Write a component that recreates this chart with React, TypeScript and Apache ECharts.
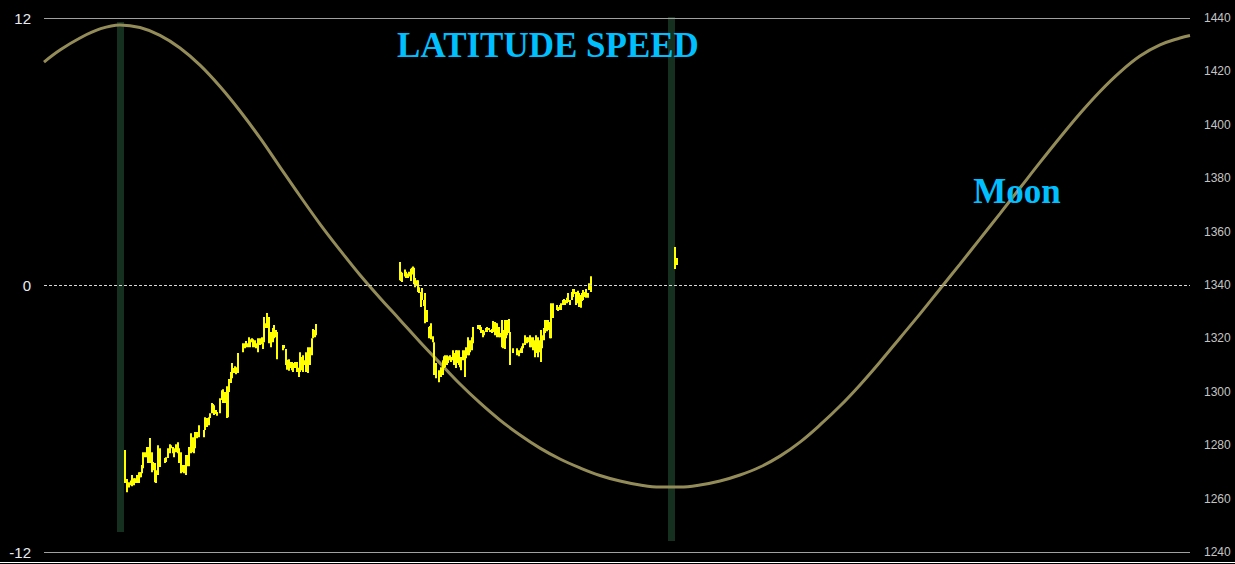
import React, { useEffect, useRef } from "react";
import * as echarts from "echarts";

// Day positions run along the hidden x axis (44 .. 1190)
const X_MIN = 44;
const X_MAX = 1190;

// Left axis (latitude speed) and right axis (price) ticks
const LEFT_TICKS = [-12, 0, 12];
const RIGHT_MIN = 1240;
const RIGHT_MAX = 1440;
const RIGHT_STEP = 20;

// Moon latitude-speed curve: [day, value on left axis]
const moonCurve: [number, number][] = [
  [44, 10.02], [60, 10.56], [80, 11.1], [100, 11.51], [120, 11.69], [140, 11.57],
  [160, 11.22], [180, 10.65], [200, 9.88], [220, 8.92], [240, 7.82], [260, 6.61],
  [280, 5.3], [300, 4.0], [320, 2.74], [340, 1.57], [360, 0.45], [380, -0.58],
  [400, -1.57], [420, -2.56], [440, -3.51], [460, -4.45], [480, -5.3], [500, -6.07],
  [520, -6.74], [540, -7.33], [560, -7.82], [580, -8.22], [600, -8.56], [620, -8.81],
  [640, -8.99], [660, -9.08], [680, -9.08], [700, -8.99], [720, -8.81], [740, -8.54],
  [760, -8.18], [780, -7.69], [800, -7.06], [820, -6.29], [840, -5.44], [860, -4.49],
  [880, -3.46], [900, -2.38], [920, -1.3], [940, -0.18], [960, 0.94], [980, 2.07],
  [1000, 3.21], [1020, 4.36], [1040, 5.51], [1060, 6.63], [1080, 7.71], [1100, 8.7],
  [1120, 9.57], [1140, 10.29], [1160, 10.79], [1180, 11.1], [1190, 11.21],
];

// Extreme markers (green verticals): [day, bottom, top] on left axis
const extremes: [number, number, number][] = [
  [120.5, -11.1, 11.82],
  [671.5, -11.51, 12.04],
];

// Price bars: [day, low, high] on right axis
const barsA: [number, number, number][] = [
  [125, 1265.8, 1278.2], [127, 1262.4, 1267.3], [129, 1264.2, 1266.1], [131, 1265.0, 1266.8],
  [132, 1264.6, 1268.8], [134, 1265.0, 1267.6], [135, 1265.8, 1267.6], [137, 1265.8, 1268.8],
  [139, 1265.8, 1269.9], [140, 1268.0, 1269.9], [141, 1268.0, 1269.9], [142, 1269.5, 1272.6],
  [143, 1271.4, 1277.4], [145, 1275.5, 1277.4], [147, 1275.5, 1279.3], [148, 1273.3, 1279.3],
  [150, 1273.3, 1282.7], [152, 1269.9, 1277.4], [153, 1270.6, 1273.7], [155, 1266.1, 1273.3],
  [156, 1265.8, 1270.6], [158, 1268.8, 1280.0], [160, 1271.8, 1278.9], [165, 1273.3, 1275.2],
  [166, 1273.7, 1275.5], [168, 1275.2, 1278.9], [170, 1277.0, 1280.4], [171, 1278.9, 1280.0],
  [173, 1277.0, 1279.3], [174, 1275.5, 1278.9], [176, 1277.4, 1280.4], [178, 1277.0, 1281.1],
  [179, 1273.3, 1278.9], [181, 1269.5, 1277.4], [182, 1269.9, 1272.6], [184, 1269.5, 1272.6],
  [186, 1268.8, 1276.3], [187, 1272.1, 1276.3], [189, 1272.1, 1279.3], [191, 1277.0, 1284.5],
  [192, 1277.4, 1283.0], [194, 1277.0, 1283.0], [195, 1278.9, 1284.9], [197, 1282.6, 1284.9],
  [199, 1283.0, 1287.5], [204, 1283.0, 1285.7], [205, 1285.7, 1290.5], [207, 1286.8, 1290.2],
  [209, 1287.5, 1290.5], [210, 1290.2, 1292.0], [212, 1292.0, 1295.8], [213, 1293.2, 1295.4],
  [214, 1291.3, 1295.0], [216, 1291.7, 1293.2], [217, 1291.0, 1292.4], [220, 1292.0, 1297.6],
  [222, 1296.9, 1300.6], [223, 1295.8, 1301.0], [225, 1295.8, 1299.9], [227, 1290.2, 1302.1],
  [228, 1290.5, 1301.8], [229, 1299.9, 1304.8], [231, 1303.3, 1307.4], [232, 1305.1, 1310.8],
  [233, 1307.0, 1308.9], [235, 1307.0, 1309.6], [236, 1306.6, 1309.2], [238, 1307.0, 1314.5],
  [243, 1314.8, 1318.2], [245, 1316.3, 1318.2], [246, 1316.7, 1319.0], [248, 1316.7, 1318.2],
  [249, 1317.5, 1320.4], [250, 1316.7, 1319.7], [252, 1318.6, 1320.1], [253, 1316.7, 1319.7],
  [255, 1316.7, 1319.3], [256, 1316.3, 1318.2], [258, 1314.8, 1320.1], [260, 1317.5, 1320.1],
  [262, 1317.8, 1320.4], [263, 1316.0, 1318.6], [264, 1318.6, 1328.0], [266, 1323.9, 1325.7],
  [267, 1323.9, 1329.5], [269, 1318.2, 1328.0], [271, 1316.7, 1322.4], [273, 1318.6, 1323.9],
  [274, 1320.1, 1325.0], [276, 1320.4, 1323.1], [277, 1312.2, 1322.4], [283, 1315.6, 1317.5],
  [284, 1316.3, 1317.5], [286, 1310.0, 1316.0], [287, 1308.3, 1312.0], [289, 1307.9, 1312.2],
  [290, 1308.9, 1311.2], [292, 1308.1, 1311.2], [293, 1307.4, 1310.8], [295, 1308.9, 1311.2],
  [297, 1307.4, 1311.2], [299, 1305.5, 1309.0], [300, 1307.4, 1314.8], [302, 1308.1, 1313.0],
  [303, 1307.4, 1313.7], [305, 1310.0, 1311.8], [306, 1307.4, 1314.8], [308, 1307.0, 1316.7],
  [310, 1310.0, 1316.7], [312, 1313.7, 1320.1], [313, 1320.1, 1323.5], [315, 1320.4, 1323.1],
  [316, 1321.2, 1325.4],
];

const barsB: [number, number, number][] = [
  [400, 1341.8, 1348.6], [401, 1341.5, 1345.0], [402, 1341.1, 1344.6], [405, 1343.2, 1345.8],
  [406, 1342.6, 1345.0], [408, 1342.6, 1344.3], [409, 1343.2, 1345.0], [411, 1341.5, 1346.1],
  [412, 1343.9, 1346.5], [413, 1345.0, 1346.9], [414, 1340.3, 1346.5], [415, 1339.2, 1342.6],
  [417, 1339.6, 1341.8], [418, 1337.4, 1341.8], [419, 1337.0, 1339.2], [421, 1331.8, 1337.4],
  [422, 1334.4, 1338.9], [424, 1332.1, 1334.4], [425, 1325.7, 1337.0], [427, 1326.1, 1330.6],
  [429, 1320.1, 1324.3], [430, 1320.4, 1324.6], [431, 1319.7, 1325.7], [433, 1318.6, 1320.8],
  [434, 1306.3, 1318.6], [436, 1305.1, 1310.8], [439, 1303.6, 1308.1], [441, 1305.5, 1309.2],
  [443, 1306.3, 1311.8], [444, 1308.9, 1313.3], [445, 1309.2, 1313.7], [447, 1310.0, 1313.7],
  [448, 1310.8, 1313.3], [450, 1311.8, 1313.7], [451, 1311.2, 1313.0], [453, 1311.8, 1315.6],
  [454, 1310.0, 1314.5], [456, 1308.9, 1315.6], [457, 1310.8, 1315.6], [459, 1310.0, 1315.6],
  [460, 1309.2, 1313.0], [461, 1308.1, 1313.0], [463, 1311.8, 1315.6], [465, 1305.5, 1315.6],
  [466, 1312.6, 1316.7], [468, 1313.7, 1320.4], [469, 1313.7, 1318.2], [470, 1314.8, 1319.3],
  [472, 1315.6, 1320.4], [473, 1318.2, 1324.3], [478, 1323.5, 1325.0], [480, 1323.1, 1325.0],
  [481, 1322.0, 1324.3], [483, 1320.4, 1323.1], [484, 1321.2, 1322.7], [486, 1322.4, 1323.9],
  [487, 1322.4, 1324.3], [489, 1323.1, 1323.9], [490, 1322.4, 1323.1], [492, 1322.0, 1323.5],
  [493, 1322.4, 1326.5], [495, 1321.2, 1326.1], [496, 1323.1, 1325.7], [497, 1320.4, 1325.7],
  [499, 1320.4, 1324.3], [500, 1320.4, 1322.0], [502, 1316.7, 1326.9], [503, 1316.3, 1323.1],
  [505, 1316.0, 1326.9], [506, 1320.1, 1322.0], [507, 1321.2, 1326.9], [509, 1322.0, 1327.3],
  [510, 1310.0, 1322.4], [513, 1314.5, 1316.3], [517, 1313.7, 1316.3], [519, 1313.3, 1315.6],
  [521, 1314.5, 1316.3], [522, 1314.5, 1317.1], [523, 1316.3, 1318.2], [525, 1317.5, 1321.2],
  [527, 1318.2, 1320.4], [528, 1318.6, 1320.4], [530, 1316.7, 1321.2], [531, 1316.7, 1320.4],
  [533, 1315.6, 1320.4], [535, 1312.9, 1319.3], [536, 1314.5, 1321.2], [538, 1312.9, 1320.4],
  [539, 1314.8, 1319.3], [541, 1311.2, 1323.1], [542, 1316.3, 1321.2], [544, 1319.3, 1323.9],
  [545, 1322.0, 1326.9], [547, 1322.7, 1326.9], [548, 1323.1, 1326.9], [550, 1320.1, 1326.1],
  [551, 1320.1, 1333.2], [553, 1327.6, 1333.2], [557, 1330.6, 1332.5], [558, 1330.3, 1331.8],
  [560, 1330.6, 1332.5], [561, 1330.6, 1333.2], [563, 1332.5, 1334.4], [564, 1332.5, 1334.8],
  [565, 1332.5, 1334.4], [567, 1333.2, 1335.2], [568, 1333.6, 1337.0], [570, 1332.5, 1334.4],
  [572, 1334.4, 1337.4], [573, 1335.5, 1338.5], [574, 1336.6, 1338.5], [576, 1332.5, 1337.4],
  [578, 1333.2, 1337.8], [579, 1331.8, 1337.0], [581, 1331.5, 1336.3], [582, 1334.0, 1337.0],
  [583, 1334.4, 1338.1], [585, 1335.5, 1337.4], [586, 1335.2, 1338.5], [588, 1335.2, 1337.0],
  [589, 1338.1, 1340.7], [591, 1337.4, 1343.3],
];

const barsC: [number, number, number][] = [
  [675, 1346.0, 1354.2],
  [677, 1347.5, 1350.1],
];

const TITLE = "LATITUDE SPEED";
const PLANET = "Moon";

export default function App() {
  const ref = useRef<HTMLDivElement>(null);

  useEffect(() => {
    document.body.style.margin = "0";
    document.body.style.background = "#000";
    if (!ref.current) return;
    const chart = echarts.init(ref.current, null, { renderer: "svg" });

    const option: any = {
      animation: false,
      backgroundColor: "#000000",
      grid: { left: 44, right: 45, top: 18, bottom: 12 },
      xAxis: {
        type: "value",
        min: X_MIN,
        max: X_MAX,
        show: false,
        splitLine: { show: false },
      },
      yAxis: [
        {
          type: "value",
          position: "left",
          min: LEFT_TICKS[0],
          max: LEFT_TICKS[LEFT_TICKS.length - 1],
          interval: 12,
          axisLine: { show: false },
          axisTick: { show: false },
          splitLine: { show: false },
          axisLabel: {
            color: "#e8ecf2",
            fontSize: 15,
            fontFamily: "Liberation Sans, Arial, sans-serif",
            margin: 13,
            formatter: (v: number) => String(v),
          },
        },
        {
          type: "value",
          position: "right",
          min: RIGHT_MIN,
          max: RIGHT_MAX,
          interval: RIGHT_STEP,
          axisLine: { show: false },
          axisTick: { show: false },
          splitLine: { show: false },
          axisLabel: {
            color: "#c4c4c4",
            fontSize: 12,
            fontFamily: "Liberation Sans, Arial, sans-serif",
            margin: 14,
            formatter: (v: number) => String(v),
          },
        },
      ],
      graphic: [
        {
          type: "text",
          x: 548,
          y: 45,
          z: 10,
          style: {
            text: TITLE,
            fill: "#00bfff",
            fontFamily: "Liberation Serif, Times New Roman, serif",
            fontWeight: "bold",
            fontSize: 35,
            align: "center",
            verticalAlign: "middle",
          },
        },
        {
          type: "text",
          x: 1017,
          y: 191,
          z: 10,
          style: {
            text: PLANET,
            fill: "#00bfff",
            fontFamily: "Liberation Serif, Times New Roman, serif",
            fontWeight: "bold",
            fontSize: 35,
            align: "center",
            verticalAlign: "middle",
          },
        },
        {
          type: "line",
          shape: { x1: 0, y1: 562.5, x2: 1235, y2: 562.5 },
          style: { stroke: "#ffffff", lineWidth: 1 },
        },
      ],
      series: [
        {
          type: "custom",
          name: "extremes",
          xAxisIndex: 0,
          yAxisIndex: 0,
          z: 1,
          silent: true,
          encode: { x: 0, y: [1, 2] },
          data: extremes,
          renderItem: (_params: any, api: any) => {
            const x = api.value(0);
            const top = api.coord([x, api.value(2)]);
            const bot = api.coord([x, api.value(1)]);
            return {
              type: "rect",
              shape: { x: top[0] - 3.5, y: top[1], width: 7, height: bot[1] - top[1] },
              style: { fill: "#15301f" },
            };
          },
        },
        {
          type: "line",
          name: "Moon",
          xAxisIndex: 0,
          yAxisIndex: 0,
          z: 2,
          smooth: 0.4,
          showSymbol: false,
          symbol: "none",
          silent: true,
          data: moonCurve,
          lineStyle: { color: "#948c58", width: 3 },
          markLine: {
            silent: true,
            symbol: ["none", "none"],
            label: { show: false },
            z: 5,
            data: [
              { yAxis: 12, lineStyle: { color: "#a0a0a0", type: "solid", width: 1 } },
              { yAxis: -12, lineStyle: { color: "#a0a0a0", type: "solid", width: 1 } },
              { yAxis: 0, lineStyle: { color: "#d8d8d8", type: [3, 2], width: 1 } },
            ],
          },
        },
        {
          type: "custom",
          name: "price",
          xAxisIndex: 0,
          yAxisIndex: 1,
          z: 3,
          silent: true,
          encode: { x: 0, y: [1, 2] },
          data: [...barsA, ...barsB, ...barsC],
          renderItem: (_params: any, api: any) => {
            const x = api.value(0);
            const top = api.coord([x, api.value(2)]);
            const bot = api.coord([x, api.value(1)]);
            return {
              type: "rect",
              shape: {
                x: top[0] - 1,
                y: top[1],
                width: 2,
                height: Math.max(1, bot[1] - top[1]),
              },
              style: { fill: "#ffff00" },
            };
          },
        },
      ],
    };

    chart.setOption(option);
    return () => chart.dispose();
  }, []);

  return (
    <div
      ref={ref}
      style={{ width: 1235, height: 564, background: "#000" }}
    />
  );
}
